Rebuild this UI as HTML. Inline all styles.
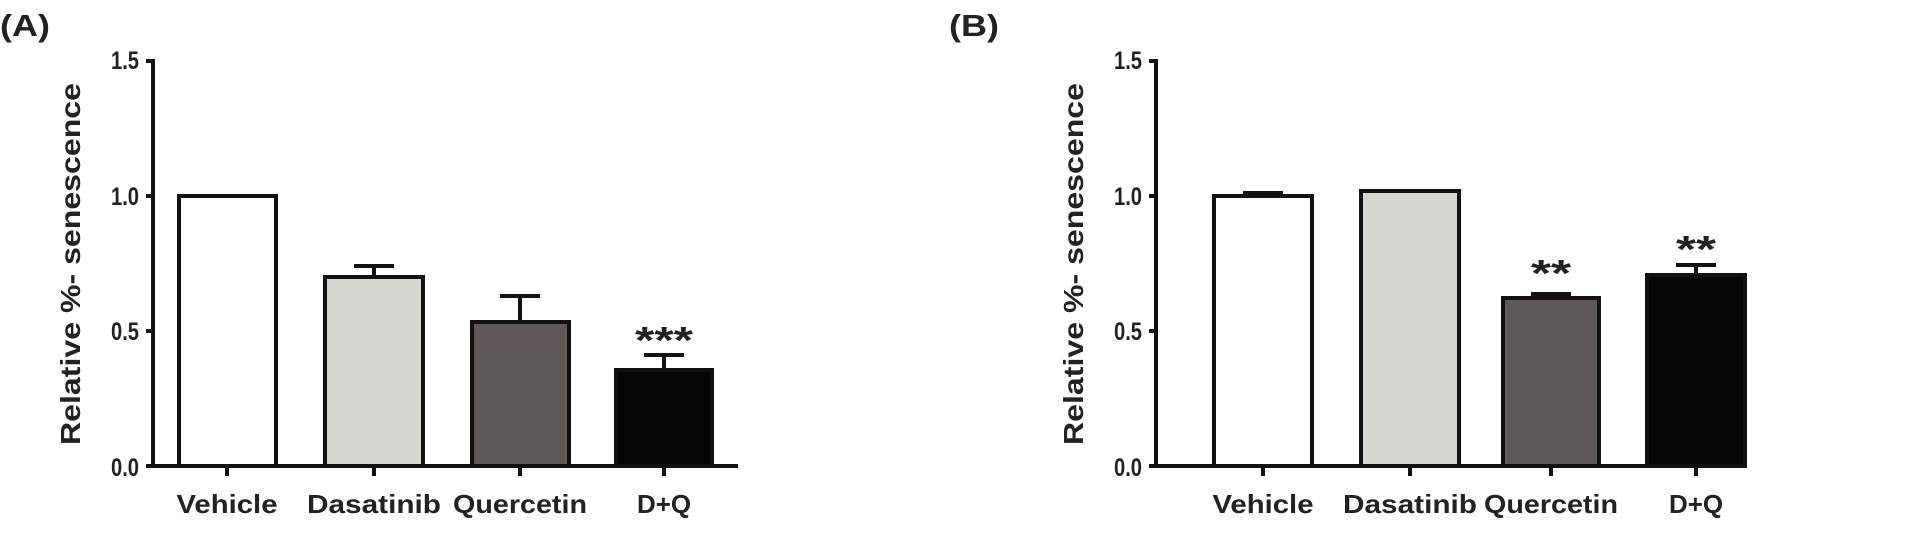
<!DOCTYPE html>
<html><head><style>body{margin:0;background:#fff}svg{display:block}text{font-family:"Liberation Sans",Arial,sans-serif;font-weight:bold;fill:#222}</style></head>
<body>
<svg width="1932" height="540" viewBox="0 0 1932 540" xmlns="http://www.w3.org/2000/svg">
<g id="A">
<text x="0" y="36" font-size="31" textLength="50" lengthAdjust="spacingAndGlyphs">(A)</text>
<text transform="translate(80,264) rotate(-90)" font-size="28" text-anchor="middle" textLength="362" lengthAdjust="spacingAndGlyphs">Relative %- senescence</text>
<g font-size="25" text-anchor="end">
<text x="139" y="69" textLength="28" lengthAdjust="spacingAndGlyphs">1.5</text><text x="139" y="205" textLength="28" lengthAdjust="spacingAndGlyphs">1.0</text><text x="139" y="340" textLength="28" lengthAdjust="spacingAndGlyphs">0.5</text><text x="139" y="476" textLength="28" lengthAdjust="spacingAndGlyphs">0.0</text>
</g>
<g stroke="#111" stroke-width="4" fill="none">
<line x1="153" y1="59" x2="153" y2="467"/>
<line x1="146" y1="61" x2="153" y2="61"/><line x1="146" y1="196" x2="153" y2="196"/><line x1="146" y1="331" x2="153" y2="331"/>
<line x1="146" y1="466" x2="738" y2="466"/>
<line x1="227" y1="466" x2="227" y2="476"/><line x1="374" y1="466" x2="374" y2="476"/><line x1="520" y1="466" x2="520" y2="476"/><line x1="664" y1="466" x2="664" y2="476"/>
<line x1="374" y1="277" x2="374" y2="266"/><line x1="354" y1="266" x2="394" y2="266"/>
<line x1="520" y1="322" x2="520" y2="296"/><line x1="500" y1="296" x2="540" y2="296"/>
<line x1="664" y1="370" x2="664" y2="355"/><line x1="644" y1="355" x2="684" y2="355"/>
<rect x="179" y="196" width="97" height="270" fill="#fff"/>
<rect x="325" y="277" width="98" height="189" fill="#d6d6d0"/>
<rect x="472" y="322" width="97" height="144" fill="#5e5957"/>
<rect x="616" y="370" width="96" height="96" fill="#050505"/>
</g>
<text x="664" y="353" font-size="38" text-anchor="middle" textLength="58" lengthAdjust="spacingAndGlyphs">***</text>
<g font-size="26" text-anchor="middle">
<text x="227" y="513" textLength="101" lengthAdjust="spacingAndGlyphs">Vehicle</text><text x="374" y="513" textLength="134" lengthAdjust="spacingAndGlyphs">Dasatinib</text><text x="520" y="513" textLength="134" lengthAdjust="spacingAndGlyphs">Quercetin</text><text x="664" y="513" textLength="54" lengthAdjust="spacingAndGlyphs">D+Q</text>
</g>
</g>
<g id="B">
<text x="949" y="36" font-size="31" textLength="50" lengthAdjust="spacingAndGlyphs">(B)</text>
<text transform="translate(1083,264) rotate(-90)" font-size="28" text-anchor="middle" textLength="362" lengthAdjust="spacingAndGlyphs">Relative %- senescence</text>
<g font-size="25" text-anchor="end">
<text x="1142" y="69" textLength="28" lengthAdjust="spacingAndGlyphs">1.5</text><text x="1142" y="205" textLength="28" lengthAdjust="spacingAndGlyphs">1.0</text><text x="1142" y="340" textLength="28" lengthAdjust="spacingAndGlyphs">0.5</text><text x="1142" y="476" textLength="28" lengthAdjust="spacingAndGlyphs">0.0</text>
</g>
<g stroke="#111" stroke-width="4" fill="none">
<line x1="1156" y1="59" x2="1156" y2="467"/>
<line x1="1149" y1="61" x2="1156" y2="61"/><line x1="1149" y1="196" x2="1156" y2="196"/><line x1="1149" y1="331" x2="1156" y2="331"/>
<line x1="1149" y1="466" x2="1741" y2="466"/>
<line x1="1263" y1="466" x2="1263" y2="476"/><line x1="1410" y1="466" x2="1410" y2="476"/><line x1="1551" y1="466" x2="1551" y2="476"/><line x1="1696" y1="466" x2="1696" y2="476"/>
<line x1="1243" y1="193" x2="1283" y2="193"/>
<line x1="1390" y1="191" x2="1430" y2="191"/>
<line x1="1531" y1="294" x2="1571" y2="294"/>
<line x1="1696" y1="275" x2="1696" y2="265"/><line x1="1676" y1="265" x2="1716" y2="265"/>
<rect x="1214" y="196" width="98" height="270" fill="#fff"/>
<rect x="1361" y="191" width="98" height="275" fill="#d6d6d0"/>
<rect x="1503" y="298" width="96" height="168" fill="#5e5957"/>
<rect x="1647" y="275" width="98" height="191" fill="#050505"/>
</g>
<text x="1551" y="286" font-size="38" text-anchor="middle" textLength="40" lengthAdjust="spacingAndGlyphs">**</text>
<text x="1696" y="262" font-size="38" text-anchor="middle" textLength="40" lengthAdjust="spacingAndGlyphs">**</text>
<g font-size="26" text-anchor="middle">
<text x="1263" y="513" textLength="101" lengthAdjust="spacingAndGlyphs">Vehicle</text><text x="1410" y="513" textLength="134" lengthAdjust="spacingAndGlyphs">Dasatinib</text><text x="1551" y="513" textLength="134" lengthAdjust="spacingAndGlyphs">Quercetin</text><text x="1696" y="513" textLength="54" lengthAdjust="spacingAndGlyphs">D+Q</text>
</g>
</g>
</svg>
</body></html>
